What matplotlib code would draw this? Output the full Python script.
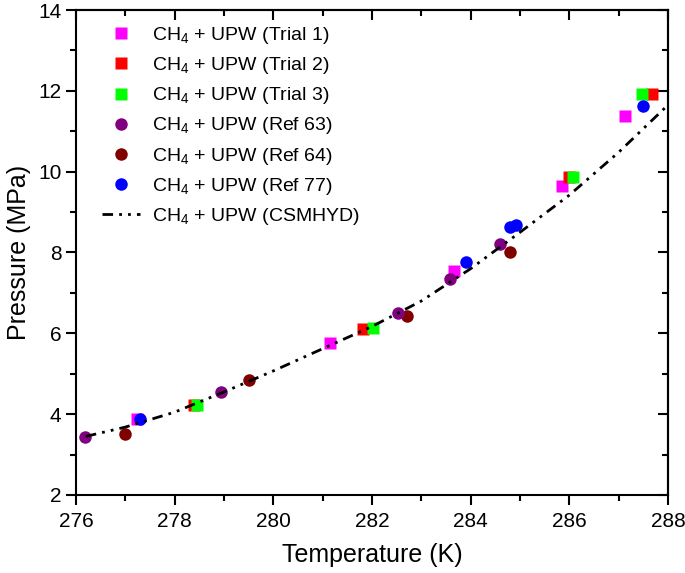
import matplotlib
matplotlib.use("Agg")
import matplotlib.pyplot as plt
from matplotlib.ticker import MultipleLocator

plt.rcParams['font.family'] = ['Liberation Sans', 'DejaVu Sans']
plt.rcParams['mathtext.fontset'] = 'custom'
plt.rcParams['mathtext.rm'] = 'Liberation Sans'

# Data
trial1_T = [277.23, 281.15, 283.66, 285.85, 287.12]
trial1_P = [3.87, 5.77, 7.55, 9.65, 11.38]
trial2_T = [278.40, 281.81, 286.00, 287.68]
trial2_P = [4.23, 6.11, 9.86, 11.91]
trial3_T = [278.45, 282.03, 286.08, 287.48]
trial3_P = [4.23, 6.12, 9.86, 11.91]
ref63_T = [276.18, 278.94, 282.53, 283.58, 284.60]
ref63_P = [3.44, 4.54, 6.50, 7.34, 8.21]
ref64_T = [276.99, 279.51, 282.70, 284.80]
ref64_P = [3.51, 4.85, 6.43, 8.00]
ref77_T = [277.30, 283.90, 284.80, 284.92, 287.50]
ref77_P = [3.87, 7.76, 8.64, 8.69, 11.63]
csm_T = [276.2, 277, 278, 279, 280, 281, 282, 283, 284, 285, 286, 287, 288]
csm_P = [3.45, 3.68, 4.05, 4.55, 5.07, 5.62, 6.17, 6.80, 7.60, 8.50, 9.42, 10.48, 11.65]

sub = r'CH$\mathregular{_4}$ + UPW'
labels = [sub + ' (Trial 1)', sub + ' (Trial 2)', sub + ' (Trial 3)',
          sub + ' (Ref 63)', sub + ' (Ref 64)', sub + ' (Ref 77)', sub + ' (CSMHYD)']

fig = plt.figure(figsize=(6.85, 5.73), dpi=100)
ax = fig.add_axes([76/685, 1-495/573, 592/685, 485/573])

sq = 8.5
ci = 9
h1, = ax.plot(trial1_T, trial1_P, 's', color='#FF00FF', ms=sq, mec='none', zorder=3)
h2, = ax.plot(trial2_T, trial2_P, 's', color='#FF0000', ms=sq, mec='none', zorder=3)
h3, = ax.plot(trial3_T, trial3_P, 's', color='#00FF00', ms=sq, mec='none', zorder=3)
h5, = ax.plot(ref64_T, ref64_P, 'o', color='#800000', ms=ci, mec='none', zorder=3)
h4, = ax.plot(ref63_T, ref63_P, 'o', color='#800080', ms=ci, mec='none', zorder=3)
h6, = ax.plot(ref77_T, ref77_P, 'o', color='#0000FF', ms=ci, mec='none', zorder=3)
h7, = ax.plot(csm_T, csm_P, color='black', lw=2.0,
              linestyle=(0, (3.8, 2.2, 1, 2.2, 1, 2.2)), zorder=4)

ax.set_xlim(276, 288)
ax.set_ylim(2, 14)
ax.xaxis.set_major_locator(MultipleLocator(2))
ax.xaxis.set_minor_locator(MultipleLocator(1))
ax.yaxis.set_major_locator(MultipleLocator(2))
ax.yaxis.set_minor_locator(MultipleLocator(1))
ax.tick_params(which='both', direction='out', width=1.5, labelsize=15)
ax.tick_params(which='major', length=7)
ax.tick_params(which='minor', length=4)
ax.tick_params(axis='x', which='major', pad=5)
for s in ax.spines.values():
    s.set_linewidth(1.5)

top = ax.secondary_xaxis('top')
top.xaxis.set_major_locator(MultipleLocator(2))
top.xaxis.set_minor_locator(MultipleLocator(1))
top.tick_params(which='both', direction='in', width=1.5, labeltop=False)
top.tick_params(which='major', length=7)
top.tick_params(which='minor', length=4)
top.spines['top'].set_linewidth(1.5)
right = ax.secondary_yaxis('right')
right.yaxis.set_major_locator(MultipleLocator(2))
right.yaxis.set_minor_locator(MultipleLocator(1))
right.tick_params(which='both', direction='in', width=1.5, labelright=False)
right.tick_params(which='major', length=7)
right.tick_params(which='minor', length=4)
right.spines['right'].set_linewidth(1.5)

ax.set_xlabel('Temperature (K)', fontsize=18, labelpad=9)
ax.set_ylabel('Pressure (MPa)', fontsize=18, labelpad=5)

ax.legend([h1, h2, h3, h4, h5, h6, h7], labels, loc='upper left',
          bbox_to_anchor=(0.03, 0.985), frameon=False, fontsize=14,
          handlelength=2.0, handletextpad=0.6, labelspacing=0.47, borderaxespad=0)

fig.savefig('out.png', dpi=100)
